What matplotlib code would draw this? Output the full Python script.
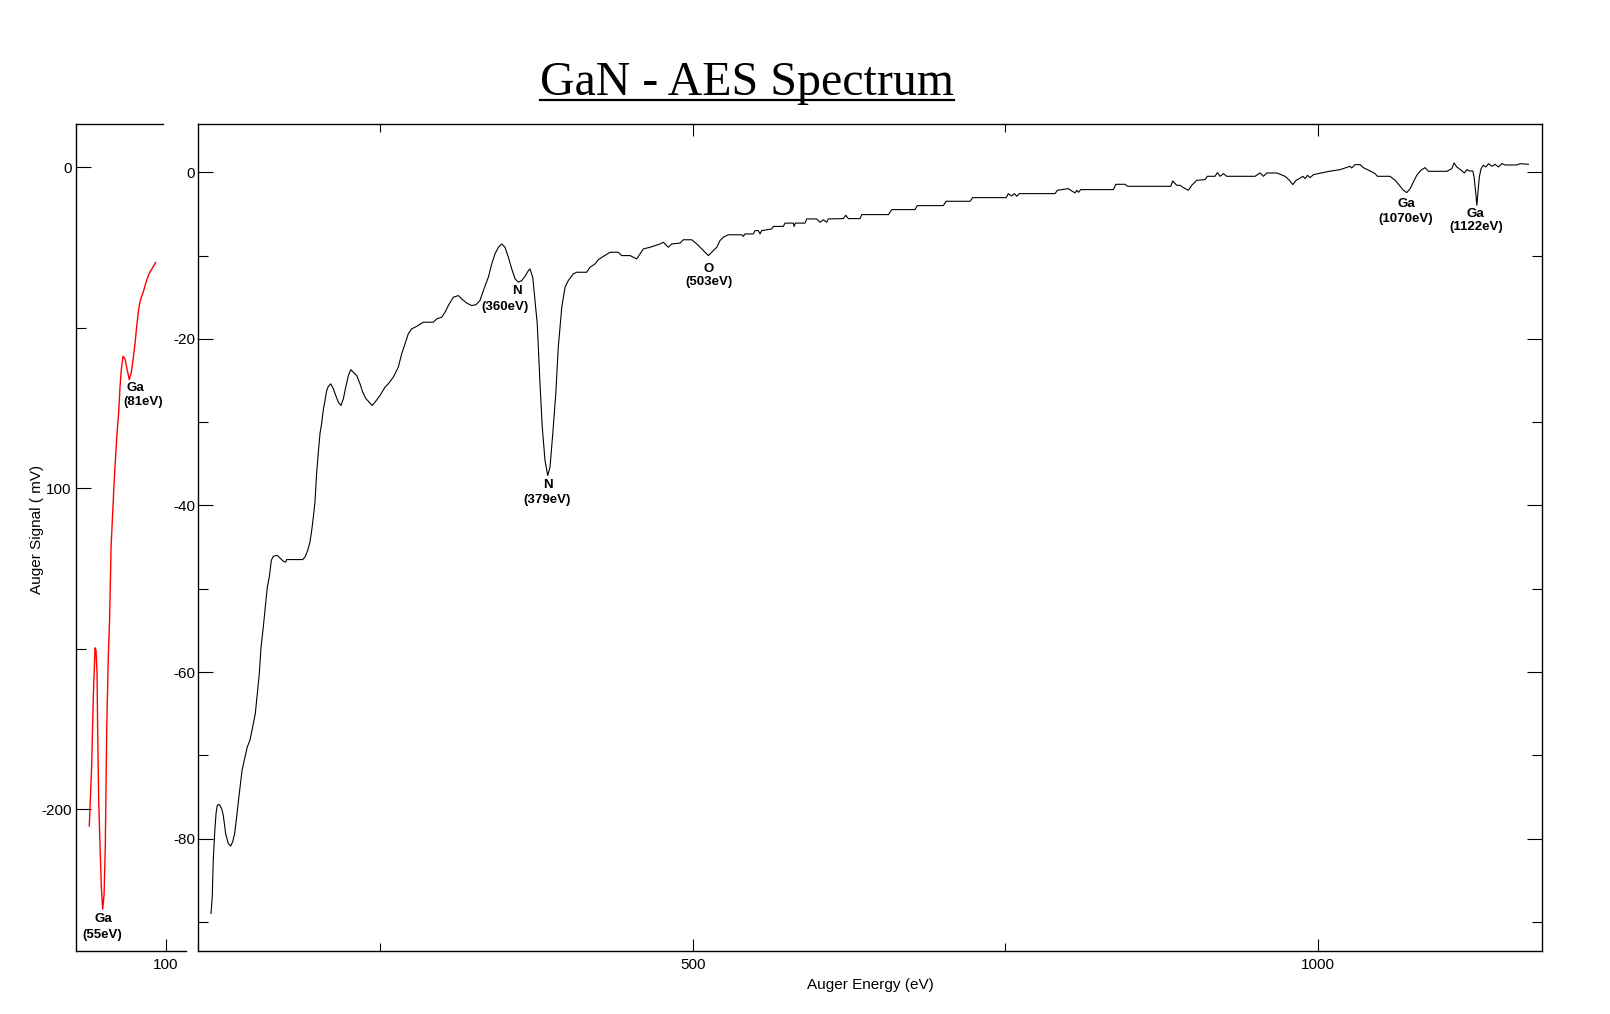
import matplotlib
matplotlib.use('Agg')
import matplotlib.pyplot as plt
from matplotlib.lines import Line2D

plt.rcParams['font.family'] = 'Liberation Sans'
plt.rcParams['axes.unicode_minus'] = False

title = 'GaN - AES Spectrum'
x_label = 'Auger Energy (eV)'
y_label = 'Auger Signal ( mV)'

# low energy part, drawn red on its own small scale
low_ev = [38.9, 40.8, 42.1, 43.5, 44.3, 45.1, 45.6, 46.4, 47.5, 48.5, 49.6, 50.7,
          51.7, 52.8, 54.1, 55.2, 56.3, 57.6, 58.9, 60.0, 61.1, 62.4, 63.5, 64.5,
          65.9, 67.5, 69.1, 70.9, 72.5, 74.1, 75.5, 76.8, 78.4, 79.7, 82.1, 84.8,
          86.9, 89.6, 92.0]
low_mv = [-205.2, -186.4, -164.9, -149.7, -150.6, -157.8, -175.7, -197.1, -211.5,
          -224.0, -231.1, -226.6, -211.5, -175.7, -152.4, -139.9, -118.4, -107.7,
          -97.0, -89.8, -82.7, -76.4, -68.3, -63.0, -58.9, -59.8, -63.0, -66.2,
          -63.9, -59.4, -54.9, -49.6, -44.2, -41.5, -38.8, -35.2, -33.1, -31.3, -29.7]

main_ev = [115, 116, 116.8, 117.9, 119, 120, 121.6, 123.5, 124.8, 126.7, 128.8,
           130.7, 132.3, 133.9, 135.5, 137.6, 139.8, 142.2, 144, 146.1, 148.3,
           150.4, 152, 153.6, 155, 156.8, 158.4, 160, 161.6, 163.2, 164.8, 168,
           170.1, 172.8, 174.7, 175.5, 180.7, 188.3, 190.1, 192.3, 194.1, 195.5,
           196.8, 198.1, 199.4, 200.7, 202.1, 203.4, 204.7, 206.1, 207.5, 208.8,
           210.7, 212.8, 214.7, 216.8, 218.9, 220.8, 222.7, 224.8, 226.7, 228.8,
           231.5, 234.1, 236.3, 238.9, 241.5, 243.9, 246.1, 250.1, 254.1, 256.7,
           260.7, 264.7, 267.4, 270.1, 272.7, 275.4, 279.4, 284.7, 292.7, 295.4,
           299.4, 302.1, 304.7, 308.7, 312.7, 315.4, 319.4, 323.4, 326.8, 330,
           333.2, 336.7, 339.4, 342, 344.7, 347.4, 350, 352.7, 355.4, 358.1, 360.7,
           363.4, 366, 368.7, 370, 372.2, 374, 375.8, 378, 379.8, 382, 384.2, 386,
           388.2, 390.6, 392.6, 395.4, 398, 400.6, 404.6, 407.3, 415.3, 418, 422,
           424.6, 428.6, 434, 440.6, 443.3, 450, 455.3, 458, 460.6, 466, 474, 476.6,
           480.6, 483.3, 490, 492.6, 499.3, 503.3, 507.3, 509.9, 512.6, 515.3, 519.3,
           521.9, 524.5, 528.5, 539.3, 540.5, 541.9, 548.5, 549.9, 552.5, 553.9,
           555.2, 563.2, 564.5, 572.5, 573.9, 580.5, 581.1, 582.1, 589.9, 591.2,
           599.2, 601.9, 604.5, 607.2, 608.5, 620.5, 622.4, 624.5, 633.8, 635.2,
           656.5, 659.2, 677.8, 679.6, 700.4, 702.6, 721.8, 723.9, 750.6, 752.4,
           755.1, 757.2, 759.1, 761.2, 789.7, 791.6, 800.4, 803.1, 805.7, 807.1,
           808.4, 810.3, 836.4, 838.3, 845.7, 847.6, 882.2, 883.8, 887, 889.7,
           892.3, 896.3, 899, 903, 909.7, 911.5, 917.6, 919.5, 921.7, 924.3, 927,
           937.6, 949.6, 953.6, 956.3, 959, 967, 973.6, 977.1, 979.8, 982.4, 985,
           987.8, 989.6, 991.5, 993.6, 996.3, 1009, 1017.6, 1025.6, 1026.9, 1029.6,
           1033.6, 1036.2, 1041.6, 1045.6, 1047.4, 1057.5, 1061.6, 1065, 1068.2,
           1070.9, 1073.6, 1076.2, 1078.9, 1082.1, 1085.5, 1088.2, 1102.9, 1106.9,
           1108.7, 1110.9, 1113.7, 1116.9, 1118.9, 1121, 1123.7, 1124.7, 1126.1,
           1126.9, 1127.7, 1128.9, 1130.3, 1132.2, 1134.1, 1136.2, 1138.9, 1141.5,
           1144.2, 1146.9, 1149.5, 1158.9, 1161.5, 1168.1]
main_mv = [-89.0, -87.0, -82.6, -79.4, -77.0, -76.0, -75.9, -76.4, -77.2, -79.4,
           -80.6, -80.9, -80.4, -79.4, -77.4, -74.6, -71.8, -70.2, -69.0, -68.2,
           -66.6, -65.0, -62.6, -60.2, -57.0, -54.6, -52.2, -49.8, -48.6, -46.6,
           -46.1, -46.0, -46.3, -46.7, -46.8, -46.5, -46.5, -46.5, -46.2, -45.4,
           -44.4, -43.0, -41.4, -39.6, -36.2, -33.8, -31.4, -30.2, -28.6, -27.4,
           -26.2, -25.7, -25.4, -26.0, -26.8, -27.6, -28.0, -27.2, -25.8, -24.4,
           -23.7, -24.0, -24.4, -25.4, -26.4, -27.2, -27.6, -28.0, -27.6, -26.8,
           -25.8, -25.4, -24.6, -23.4, -21.8, -20.6, -19.4, -18.8, -18.5, -18.0,
           -18.0, -17.6, -17.4, -16.8, -16.0, -15.0, -14.8, -15.2, -15.7, -16.0,
           -15.9, -15.4, -14.0, -12.6, -11.0, -9.8, -9.0, -8.6, -9.0, -10.2, -11.6,
           -12.8, -13.2, -13.0, -12.5, -11.8, -11.6, -12.6, -15.4, -18.2, -25.4,
           -30.6, -34.6, -36.4, -35.4, -31.4, -26.6, -21.0, -16.2, -13.8, -13.0,
           -12.2, -12.0, -12.0, -11.4, -11.0, -10.5, -10.1, -9.6, -9.6, -10.0,
           -10.0, -10.4, -9.8, -9.2, -9.0, -8.6, -8.4, -9.0, -8.6, -8.5, -8.1, -8.1,
           -8.6, -9.2, -9.6, -10.0, -9.6, -9.0, -8.2, -7.8, -7.5, -7.5, -7.7, -7.4,
           -7.4, -7.0, -7.0, -7.4, -7.0, -6.8, -6.5, -6.5, -6.1, -6.1, -6.5, -6.1,
           -6.1, -5.6, -5.6, -6.0, -5.7, -6.0, -5.6, -5.56, -5.16, -5.56, -5.56,
           -5.08, -5.08, -4.48, -4.48, -4.0, -4.0, -3.48, -3.48, -3.04, -3.04,
           -2.56, -2.84, -2.56, -2.88, -2.56, -2.56, -2.16, -1.96, -2.24, -2.48,
           -2.16, -2.4, -2.08, -2.08, -1.44, -1.44, -1.68, -1.68, -1.04, -1.56,
           -1.56, -1.84, -2.16, -1.56, -0.96, -0.88, -0.48, -0.48, -0.04, -0.48,
           -0.16, -0.48, -0.48, -0.48, -0.08, -0.48, -0.08, -0.08, -0.48, -0.96,
           -1.48, -0.96, -0.76, -0.48, -0.76, -0.36, -0.64, -0.28, 0.12, 0.32, 0.72,
           0.52, 0.92, 0.92, 0.56, 0.16, -0.16, -0.48, -0.48, -0.96, -1.56, -2.16,
           -2.44, -1.96, -1.16, -0.36, 0.24, 0.56, 0.12, 0.12, 0.44, 1.12, 0.64,
           0.32, -0.08, 0.32, 0.16, 0.16, -0.56, -2.56, -3.96, -2.56, -0.56, 0.44,
           0.84, 0.64, 1.04, 0.72, 0.96, 0.64, 1.04, 0.88, 0.88, 1.04, 0.96]

# peak labels: element, energy text, position of element, position of energy text
low_peaks = [('Ga', '(81eV)', (75.5, -68.7), (82.1, -73.2)),
             ('Ga', '(55eV)', (50.1, -234.2), (49.1, -239.2))]
main_peaks = [('N', '(360eV)', (359.4, -14.3), (350.0, -16.2)),
              ('N', '(379eV)', (384.6, -37.6), (383.4, -39.4)),
              ('O', '(503eV)', (512.9, -11.6), (513.1, -13.2)),
              ('Ga', '(1070eV)', (1070.9, -3.76), (1070.1, -5.56)),
              ('Ga', '(1122eV)', (1125.5, -4.96), (1126.1, -6.56))]

W, H = 1610, 1014
fig = plt.figure(figsize=(W / 100, H / 100), dpi=100)
ax_low = fig.add_axes([76.3 / W, 63 / H, 109.4 / W, 827 / H])
ax = fig.add_axes([198 / W, 63 / H, 1344 / W, 827 / H])

# small low-energy panel
ax_low.plot(low_ev, low_mv, color='red', lw=1.0)
ax_low.set_xlim(28.5, 116)
ax_low.set_ylim(-244.1, 13.4)
ax_low.spines['right'].set_visible(False)
ax_low.spines['top'].set_bounds(28.5, 98)
ax_low.set_xticks([100])
ax_low.set_yticks([0, -100, -200])
ax_low.set_yticklabels(['0', '100', '-200'])
ax_low.set_yticks([-50, -150], minor=True)
ax_low.tick_params(axis='y', which='major', direction='in', length=10.5, width=0.8,
                   pad=3.3, labelsize=11)
ax_low.tick_params(axis='y', which='minor', direction='in', length=7.2, width=0.8)
ax_low.tick_params(axis='x', which='major', direction='in', length=8.6, width=0.8,
                   pad=5, labelsize=11)

# main spectrum
ax.plot(main_ev, main_mv, color='black', lw=0.8)
ax.set_xlim(104.6, 1179)
ax.set_ylim(-93.5, 5.8)
ax.set_xticks([500, 1000])
ax.set_xticks([250, 750], minor=True)
ax.set_yticks([0, -20, -40, -60, -80])
ax.set_yticks([-10, -30, -50, -70, -90], minor=True)
ax.tick_params(axis='x', which='major', direction='in', length=8.6, width=0.8,
               top=True, pad=5, labelsize=11)
ax.tick_params(axis='x', which='minor', direction='in', length=6, width=0.8, top=True)
ax.tick_params(axis='y', which='major', direction='in', length=10.8, width=0.8,
               right=True, pad=2.2, labelsize=11)
ax.tick_params(axis='y', which='minor', direction='in', length=7.2, width=0.8, right=True)

for a in (ax_low, ax):
    for s in a.spines.values():
        s.set_linewidth(1.0)

for a, peaks in ((ax_low, low_peaks), (ax, main_peaks)):
    for name, energy, p1, p2 in peaks:
        a.text(p1[0], p1[1], name, ha='center', va='center', fontsize=9.5,
               fontweight='bold')
        a.text(p2[0], p2[1], energy, ha='center', va='center', fontsize=9.5,
               fontweight='bold')

fig.text(870 / W, 1 - 985 / H, x_label, ha='center', va='center', fontsize=11)
fig.text(37 / W, 1 - 529 / H, y_label, ha='center', va='center', fontsize=11,
         rotation=90)

t = fig.text(747 / W, 1 - 95 / H, title, ha='center', va='baseline',
             family='Liberation Serif', fontsize=34.5)
fig.canvas.draw()
bb = t.get_window_extent()
y_ul = 1 - 100 / H
fig.add_artist(Line2D([bb.x0 / W, bb.x1 / W], [y_ul, y_ul], color='black',
                      lw=1.6, transform=fig.transFigure))

fig.savefig('out.png', dpi=100)
